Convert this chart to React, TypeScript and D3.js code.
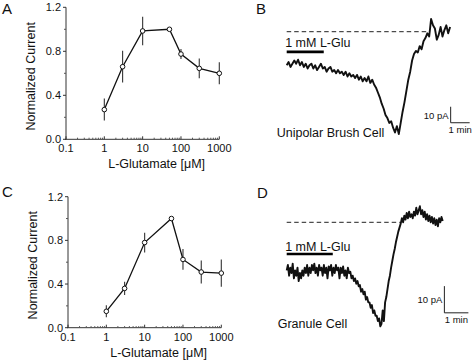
import * as d3 from "d3";

// dose-response (A: unipolar brush cell, C: granule cell)
const concentrations = [1, 3, 10, 50, 100, 300, 1000];
const ubcMean = [0.27, 0.66, 0.985, 1.0, 0.775, 0.645, 0.6];
const ubcErr = [0.1, 0.144, 0.13, 0, 0.045, 0.09, 0.1];
const gcMean = [0.15, 0.36, 0.78, 1.0, 0.625, 0.51, 0.5];
const gcErr = [0.055, 0.06, 0.09, 0, 0.095, 0.105, 0.125];

const xTickValues = [0.1, 1, 10, 100, 1000];
const yTickValues = [0, 0.4, 0.8, 1.2];
const yMinorValues = [0.2, 0.6, 1.0];

// current traces, sampled every 0.1 min (B) and 0.05 min (D), in pA
const ubcStep = 0.1;
const ubcTrace = [
  -21, -19, -22, -20, -18, -20, -17.5, -21, -19, -22,
  -20, -23, -21, -20, -23, -21, -24, -22, -20, -23,
  -22, -25, -23, -22, -25, -24, -26, -24, -26, -25,
  -27, -25, -28, -26, -28, -27, -29, -27, -30, -28,
  -31, -29, -31, -28, -32, -30, -33, -35, -38, -41,
  -45, -48, -52, -54, -57, -56, -60, -63, -59, -64,
  -57, -50, -44, -37, -30, -25, -18, -14, -12, -13,
  -9, -11, -6, -4, -1, -3, 8, 4, 2, -5,
  -2, 3, -3, 1, 4, -1, 3,
];

const gcStep = 0.05;
const gcTrace = [
  -18, -16, -20, -17, -19, -15.5, -21, -18, -20, -17,
  -22, -19, -21, -18, -20, -17, -19, -16, -20, -17,
  -19, -16, -18, -15.5, -19, -17, -20, -16, -18, -17,
  -20, -16, -19, -17, -21, -16.5, -18, -16, -20, -17,
  -19, -16, -18, -17, -21, -17, -19, -16.5, -20, -18,
  -21, -17, -19, -18.5, -21, -20, -22, -21, -23, -22,
  -24, -23.5, -26, -25, -27, -26, -29, -28, -30, -30,
  -32, -31, -34, -33, -35, -35, -37, -36, -39, -38,
  -33, -37, -30, -28, -25, -22, -20, -17, -14.5, -12,
  -10, -7.5, -5.5, -3.5, -2, -0.5, 1.5, 0, 2.5, 1,
  3.5, 1.5, 4, 2, 3, 1.5, 4, 2.5, 5.5, 3,
  4.5, 6, 3, 4.5, 2, 4, 1, 3, 0.5, 2.5,
  0, 2, -0.5, 1.5, -1, 1, -1.5, 1.5, 0, 2, 0.5,
];

const FONT = "'Liberation Sans', Arial, Helvetica, sans-serif";

type DoseProps = {
  x0: number;
  yTop: number;
  yBottom: number;
  mean: number[];
  err: number[];
};

const DosePanel = ({ x0, yTop, yBottom, mean, err }: DoseProps) => {
  const x = d3.scaleLog().domain([0.1, 1000]).range([x0, x0 + 153.3]);
  const y = d3.scaleLinear().domain([0, 1.2]).range([yBottom, yTop]);
  const minor: number[] = [];
  [0.1, 1, 10, 100].forEach((d) => {
    for (let k = 2; k <= 9; k++) minor.push(d * k);
  });
  const pts = concentrations.map((c, i) => ({ c, m: mean[i], e: err[i] }));
  const line = d3
    .line<{ c: number; m: number }>()
    .x((d) => x(d.c))
    .y((d) => y(d.m));
  const midY = (yTop + yBottom) / 2;

  return (
    <g fontFamily={FONT} fill="#111">
      {/* axes */}
      <line x1={x0} x2={x0} y1={y(0)} y2={y(1.2)} stroke="#333" strokeWidth={1} />
      <line x1={x0 - 1} x2={x(1000)} y1={y(0)} y2={y(0)} stroke="#333" strokeWidth={1} />
      {yTickValues.map((t) => (
        <g key={"y" + t}>
          <line x1={x0 - 3} x2={x0} y1={y(t)} y2={y(t)} stroke="#333" />
          <text x={x0 - 5} y={y(t) + 4} fontSize={11} textAnchor="end">
            {t.toFixed(1)}
          </text>
        </g>
      ))}
      {yMinorValues.map((t) => (
        <line key={"ym" + t} x1={x0 - 2} x2={x0} y1={y(t)} y2={y(t)} stroke="#555" />
      ))}
      {xTickValues.map((t) => (
        <g key={"x" + t}>
          <line x1={x(t)} x2={x(t)} y1={y(0)} y2={y(0) - 3} stroke="#333" />
          <text x={x(t)} y={y(0) + 13} fontSize={11} textAnchor="middle">
            {t}
          </text>
        </g>
      ))}
      {minor.map((t) => (
        <line key={"xm" + t} x1={x(t)} x2={x(t)} y1={y(0)} y2={y(0) - 1.6} stroke="#555" />
      ))}
      <text x={x(10) + 14} y={y(0) + 29} fontSize={12.5} textAnchor="middle">
        L-Glutamate [μM]
      </text>
      <text
        transform={`translate(${x0 - 31},${midY + 3}) rotate(-90)`}
        fontSize={12.5}
        textAnchor="middle"
      >
        Normalized Current
      </text>
      {/* error bars */}
      {pts
        .filter((d) => d.e > 0)
        .map((d) => (
          <line
            key={"e" + d.c}
            x1={x(d.c)}
            x2={x(d.c)}
            y1={y(d.m - d.e)}
            y2={y(d.m + d.e)}
            stroke="#333"
            strokeWidth={1.1}
          />
        ))}
      <path d={line(pts) || ""} fill="none" stroke="#111" strokeWidth={1.3} />
      {pts.map((d) => (
        <circle key={"p" + d.c} cx={x(d.c)} cy={y(d.m)} r={2.3} fill="#fff" stroke="#111" strokeWidth={1} />
      ))}
    </g>
  );
};

type TraceProps = {
  values: number[];
  step: number;
  left: number;
  pxPerMin: number;
  baseY: number;
  pxPerPA: number;
  dashEnd: number;
  barEnd: number;
  barPA: number;
  labelPA: number;
  sbT: number;
  sbPA: number;
  cellLabel: string;
  cellLabelX: number;
  cellLabelY: number;
};

const TracePanel = (p: TraceProps) => {
  const tMax = (p.values.length - 1) * p.step;
  const x = d3
    .scaleLinear()
    .domain([0, tMax])
    .range([p.left, p.left + tMax * p.pxPerMin]);
  const y = d3
    .scaleLinear()
    .domain([0, -10])
    .range([p.baseY, p.baseY + 10 * p.pxPerPA]);
  const line = d3
    .line<number>()
    .x((_, i) => x(i * p.step))
    .y((d) => y(d));

  return (
    <g fontFamily={FONT} fill="#111">
      <line
        x1={x(0)}
        x2={x(p.dashEnd)}
        y1={y(0)}
        y2={y(0)}
        stroke="#222"
        strokeWidth={1}
        strokeDasharray="4.5,3"
      />
      <text x={x(0) - 1.5} y={y(p.labelPA)} fontSize={12.5}>
        1 mM L-Glu
      </text>
      <line x1={x(0)} x2={x(p.barEnd)} y1={y(p.barPA)} y2={y(p.barPA)} stroke="#000" strokeWidth={2.6} />
      <path
        d={line(p.values) || ""}
        fill="none"
        stroke="#111"
        strokeWidth={1.9}
        strokeLinejoin="round"
      />
      {/* scale bar: 10 pA, 1 min */}
      <path
        d={`M${x(p.sbT)},${y(p.sbPA + 10)}V${y(p.sbPA)}H${x(p.sbT + 1)}`}
        fill="none"
        stroke="#222"
        strokeWidth={1}
      />
      <text x={x(p.sbT) - 2} y={(y(p.sbPA + 10) + y(p.sbPA)) / 2 + 4} fontSize={9.5} textAnchor="end">
        10 pA
      </text>
      <text x={x(p.sbT + 0.5)} y={y(p.sbPA) + 10} fontSize={9.5} textAnchor="middle">
        1 min
      </text>
      <text x={p.cellLabelX} y={p.cellLabelY} fontSize={12.5}>
        {p.cellLabel}
      </text>
    </g>
  );
};

const App = () => {
  return (
    <svg
      width={474}
      height={361}
      viewBox="0 0 474 361"
      style={{ position: "absolute", left: 0, top: 0, background: "#fff" }}
    >
      <rect width={474} height={361} fill="#fff" />
      <g fontFamily={FONT} fontSize={15} fill="#111">
        <text x={2} y={14}>A</text>
        <text x={256} y={14}>B</text>
        <text x={2} y={197}>C</text>
        <text x={257} y={198}>D</text>
      </g>
      <DosePanel x0={66} yTop={7.3} yBottom={139.3} mean={ubcMean} err={ubcErr} />
      <DosePanel x0={68} yTop={196.7} yBottom={327.7} mean={gcMean} err={gcErr} />
      <TracePanel
        values={ubcTrace}
        step={ubcStep}
        left={286.7}
        pxPerMin={19}
        baseY={31.7}
        pxPerPA={1.6}
        dashEnd={7.37}
        barEnd={1.95}
        barPA={-12.6}
        labelPA={-9.6}
        sbT={8.63}
        sbPA={-56.9}
        cellLabel="Unipolar Brush Cell"
        cellLabelX={276.7}
        cellLabelY={137.3}
      />
      <TracePanel
        values={gcTrace}
        step={gcStep}
        left={286.7}
        pxPerMin={24}
        baseY={222.3}
        pxPerPA={2.67}
        dashEnd={4.72}
        barEnd={1.92}
        barPA={-11.9}
        labelPA={-10.6}
        sbT={6.57}
        sbPA={-33.9}
        cellLabel="Granule Cell"
        cellLabelX={277.7}
        cellLabelY={327.7}
      />
    </svg>
  );
};

export default App;
